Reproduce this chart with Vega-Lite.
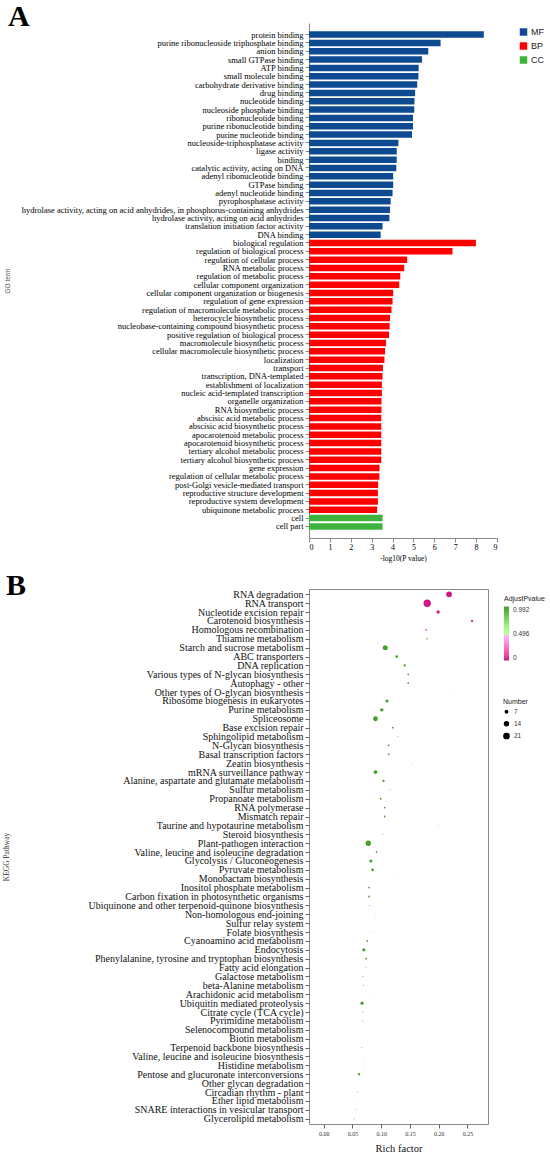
{
  "$schema": "https://vega.github.io/schema/vega-lite/v6.json",
  "background": "white",
  "padding": {"left": 1, "top": 2, "right": 5, "bottom": 5},
  "columns": 1,
  "align": "none",
  "spacing": 8,
  "config": {
    "view": {"stroke": null},
    "axis": {"grid": false},
    "font": "Liberation Serif"
  },
  "resolve": {"scale": {"color": "independent", "size": "independent"}, "legend": {"color": "independent"}},
  "concat": [
    {
      "title": {"text": "A", "anchor": "start", "frame": "bounds", "fontSize": 30, "font": "Liberation Serif", "fontWeight": "bold", "offset": -9, "dx": 4, "color": "#000"},
      "width": 188,
      "height": 515,
      "data": {
        "values": [
          {"term": "protein binding", "value": 8.37, "category": "MF"},
          {"term": "purine ribonucleoside triphosphate binding", "value": 6.30, "category": "MF"},
          {"term": "anion binding", "value": 5.71, "category": "MF"},
          {"term": "small GTPase binding", "value": 5.41, "category": "MF"},
          {"term": "ATP binding", "value": 5.25, "category": "MF"},
          {"term": "small molecule binding", "value": 5.24, "category": "MF"},
          {"term": "carbohydrate derivative binding", "value": 5.18, "category": "MF"},
          {"term": "drug binding", "value": 5.08, "category": "MF"},
          {"term": "nucleotide binding", "value": 5.05, "category": "MF"},
          {"term": "nucleoside phosphate binding", "value": 5.04, "category": "MF"},
          {"term": "ribonucleotide binding", "value": 4.98, "category": "MF"},
          {"term": "purine ribonucleotide binding", "value": 4.98, "category": "MF"},
          {"term": "purine nucleotide binding", "value": 4.93, "category": "MF"},
          {"term": "nucleoside-triphosphatase activity", "value": 4.28, "category": "MF"},
          {"term": "ligase activity", "value": 4.20, "category": "MF"},
          {"term": "binding", "value": 4.20, "category": "MF"},
          {"term": "catalytic activity, acting on DNA", "value": 4.18, "category": "MF"},
          {"term": "adenyl ribonucleotide binding", "value": 4.03, "category": "MF"},
          {"term": "GTPase binding", "value": 4.03, "category": "MF"},
          {"term": "adenyl nucleotide binding", "value": 4.00, "category": "MF"},
          {"term": "pyrophosphatase activity", "value": 3.91, "category": "MF"},
          {"term": "hydrolase activity, acting on acid anhydrides, in phosphorus-containing anhydrides", "value": 3.88, "category": "MF"},
          {"term": "hydrolase activity, acting on acid anhydrides", "value": 3.85, "category": "MF"},
          {"term": "translation initiation factor activity", "value": 3.52, "category": "MF"},
          {"term": "DNA binding", "value": 3.43, "category": "MF"},
          {"term": "biological regulation", "value": 7.99, "category": "BP"},
          {"term": "regulation of biological process", "value": 6.87, "category": "BP"},
          {"term": "regulation of cellular process", "value": 4.70, "category": "BP"},
          {"term": "RNA metabolic process", "value": 4.56, "category": "BP"},
          {"term": "regulation of metabolic process", "value": 4.37, "category": "BP"},
          {"term": "cellular component organization", "value": 4.32, "category": "BP"},
          {"term": "cellular component organization or biogenesis", "value": 4.03, "category": "BP"},
          {"term": "regulation of gene expression", "value": 4.00, "category": "BP"},
          {"term": "regulation of macromolecule metabolic process", "value": 3.95, "category": "BP"},
          {"term": "heterocycle biosynthetic process", "value": 3.88, "category": "BP"},
          {"term": "nucleobase-containing compound biosynthetic process", "value": 3.86, "category": "BP"},
          {"term": "positive regulation of biological process", "value": 3.83, "category": "BP"},
          {"term": "macromolecule biosynthetic process", "value": 3.69, "category": "BP"},
          {"term": "cellular macromolecule biosynthetic process", "value": 3.64, "category": "BP"},
          {"term": "localization", "value": 3.61, "category": "BP"},
          {"term": "transport", "value": 3.54, "category": "BP"},
          {"term": "transcription, DNA-templated", "value": 3.52, "category": "BP"},
          {"term": "establishment of localization", "value": 3.49, "category": "BP"},
          {"term": "nucleic acid-templated transcription", "value": 3.49, "category": "BP"},
          {"term": "organelle organization", "value": 3.47, "category": "BP"},
          {"term": "RNA biosynthetic process", "value": 3.47, "category": "BP"},
          {"term": "abscisic acid metabolic process", "value": 3.46, "category": "BP"},
          {"term": "abscisic acid biosynthetic process", "value": 3.46, "category": "BP"},
          {"term": "apocarotenoid metabolic process", "value": 3.46, "category": "BP"},
          {"term": "apocarotenoid biosynthetic process", "value": 3.46, "category": "BP"},
          {"term": "tertiary alcohol metabolic process", "value": 3.46, "category": "BP"},
          {"term": "tertiary alcohol biosynthetic process", "value": 3.46, "category": "BP"},
          {"term": "gene expression", "value": 3.38, "category": "BP"},
          {"term": "regulation of cellular metabolic process", "value": 3.37, "category": "BP"},
          {"term": "post-Golgi vesicle-mediated transport", "value": 3.31, "category": "BP"},
          {"term": "reproductive structure development", "value": 3.30, "category": "BP"},
          {"term": "reproductive system development", "value": 3.30, "category": "BP"},
          {"term": "ubiquinone metabolic process", "value": 3.26, "category": "BP"},
          {"term": "cell", "value": 3.52, "category": "CC"},
          {"term": "cell part", "value": 3.52, "category": "CC"}
        ]
      },
      "mark": {"type": "bar"},
      "encoding": {
        "y": {
          "field": "term", "type": "nominal", "sort": null,
          "scale": {"paddingInner": 0.22, "paddingOuter": 2.0},
          "axis": {
            "title": "GO term", "titleFont": "Liberation Sans", "titleFontSize": 6.5, "titleFontWeight": "normal", "titleColor": "#555", "titleX": -299,
            "labelFont": "Liberation Serif", "labelFontSize": 8.5, "labelColor": "#000", "labelLimit": 400, "labelPadding": 2,
            "domainColor": "#888", "tickColor": "#888", "tickSize": 4
          }
        },
        "x": {
          "field": "value", "type": "quantitative",
          "scale": {"domain": [0, 9], "nice": false},
          "axis": {
            "title": "-log10(P value)", "titleFont": "Liberation Serif", "titleFontSize": 7.5, "titleFontWeight": "normal", "titleColor": "#000", "titlePadding": 3,
            "values": [0, 1, 2, 3, 4, 5, 6, 7, 8, 9],
            "labelFont": "Liberation Serif", "labelFontSize": 8, "labelColor": "#000", "labelPadding": 1,
            "domainColor": "#888", "tickColor": "#888", "tickSize": 4
          }
        },
        "color": {
          "field": "category", "type": "nominal",
          "scale": {"domain": ["MF", "BP", "CC"], "range": ["#0E4A92", "#FF0000", "#3DB23D"]},
          "legend": {
            "title": null, "orient": "none", "legendX": 210, "legendY": 4.5,
            "symbolType": "square", "symbolSize": 56, "symbolStrokeWidth": 0,
            "labelFont": "Liberation Sans", "labelFontSize": 9, "labelColor": "#222", "labelOffset": 3, "rowPadding": 4
          }
        }
      }
    },
    {
      "title": {"text": "B", "anchor": "start", "frame": "bounds", "fontSize": 30, "font": "Liberation Serif", "fontWeight": "bold", "offset": -12, "dx": 4, "color": "#000"},
      "width": 179,
      "height": 535,
      "view": {"stroke": "#888", "strokeWidth": 1},
      "data": {
        "values": [
          {"pathway": "RNA degradation", "rich": 0.218, "p": 0.005, "n": 16},
          {"pathway": "RNA transport", "rich": 0.180, "p": 0.005, "n": 25},
          {"pathway": "Nucleotide excision repair", "rich": 0.199, "p": 0.03, "n": 6},
          {"pathway": "Carotenoid biosynthesis", "rich": 0.258, "p": 0.05, "n": 3},
          {"pathway": "Homologous recombination", "rich": 0.178, "p": 0.3, "n": 3},
          {"pathway": "Thiamine metabolism", "rich": 0.180, "p": 0.75, "n": 2},
          {"pathway": "Starch and sucrose metabolism", "rich": 0.107, "p": 0.992, "n": 12},
          {"pathway": "ABC transporters", "rich": 0.127, "p": 0.992, "n": 4},
          {"pathway": "DNA replication", "rich": 0.141, "p": 0.992, "n": 3},
          {"pathway": "Various types of N-glycan biosynthesis", "rich": 0.147, "p": 0.992, "n": 2},
          {"pathway": "Autophagy - other", "rich": 0.147, "p": 0.992, "n": 2},
          {"pathway": "Other types of O-glycan biosynthesis", "rich": 0.221, "p": 0.6, "n": 1},
          {"pathway": "Ribosome biogenesis in eukaryotes", "rich": 0.110, "p": 0.992, "n": 5},
          {"pathway": "Purine metabolism", "rich": 0.101, "p": 0.992, "n": 6},
          {"pathway": "Spliceosome", "rich": 0.090, "p": 0.992, "n": 11},
          {"pathway": "Base excision repair", "rich": 0.120, "p": 0.992, "n": 2},
          {"pathway": "Sphingolipid metabolism", "rich": 0.129, "p": 0.85, "n": 1},
          {"pathway": "N-Glycan biosynthesis", "rich": 0.113, "p": 0.992, "n": 2},
          {"pathway": "Basal transcription factors", "rich": 0.113, "p": 0.992, "n": 2},
          {"pathway": "Zeatin biosynthesis", "rich": 0.153, "p": 0.65, "n": 1},
          {"pathway": "mRNA surveillance pathway", "rich": 0.090, "p": 0.992, "n": 7},
          {"pathway": "Alanine, aspartate and glutamate metabolism", "rich": 0.104, "p": 0.992, "n": 3},
          {"pathway": "Sulfur metabolism", "rich": 0.115, "p": 0.85, "n": 1},
          {"pathway": "Propanoate metabolism", "rich": 0.099, "p": 0.992, "n": 2},
          {"pathway": "RNA polymerase", "rich": 0.106, "p": 0.992, "n": 2},
          {"pathway": "Mismatch repair", "rich": 0.106, "p": 0.992, "n": 2},
          {"pathway": "Taurine and hypotaurine metabolism", "rich": 0.201, "p": 0.55, "n": 1},
          {"pathway": "Steroid biosynthesis", "rich": 0.103, "p": 0.85, "n": 1},
          {"pathway": "Plant-pathogen interaction", "rich": 0.0775, "p": 0.992, "n": 14},
          {"pathway": "Valine, leucine and isoleucine degradation", "rich": 0.092, "p": 0.992, "n": 2},
          {"pathway": "Glycolysis / Gluconeogenesis", "rich": 0.082, "p": 0.992, "n": 5},
          {"pathway": "Pyruvate metabolism", "rich": 0.085, "p": 0.992, "n": 4},
          {"pathway": "Monobactam biosynthesis", "rich": 0.124, "p": 0.55, "n": 1},
          {"pathway": "Inositol phosphate metabolism", "rich": 0.079, "p": 0.992, "n": 2},
          {"pathway": "Carbon fixation in photosynthetic organisms", "rich": 0.079, "p": 0.992, "n": 2},
          {"pathway": "Ubiquinone and other terpenoid-quinone biosynthesis", "rich": 0.080, "p": 0.9, "n": 1},
          {"pathway": "Non-homologous end-joining", "rich": 0.090, "p": 0.55, "n": 1},
          {"pathway": "Sulfur relay system", "rich": 0.100, "p": 0.55, "n": 1},
          {"pathway": "Folate biosynthesis", "rich": 0.087, "p": 0.65, "n": 1},
          {"pathway": "Cyanoamino acid metabolism", "rich": 0.0758, "p": 0.992, "n": 2},
          {"pathway": "Endocytosis", "rich": 0.0697, "p": 0.992, "n": 5},
          {"pathway": "Phenylalanine, tyrosine and tryptophan biosynthesis", "rich": 0.0737, "p": 0.992, "n": 2},
          {"pathway": "Fatty acid elongation", "rich": 0.0735, "p": 0.85, "n": 1},
          {"pathway": "Galactose metabolism", "rich": 0.0685, "p": 0.992, "n": 1},
          {"pathway": "beta-Alanine metabolism", "rich": 0.069, "p": 0.992, "n": 1},
          {"pathway": "Arachidonic acid metabolism", "rich": 0.082, "p": 0.55, "n": 1},
          {"pathway": "Ubiquitin mediated proteolysis", "rich": 0.0666, "p": 0.992, "n": 5},
          {"pathway": "Citrate cycle (TCA cycle)", "rich": 0.068, "p": 0.9, "n": 1},
          {"pathway": "Pyrimidine metabolism", "rich": 0.068, "p": 0.9, "n": 1},
          {"pathway": "Selenocompound metabolism", "rich": 0.076, "p": 0.55, "n": 1},
          {"pathway": "Biotin metabolism", "rich": 0.077, "p": 0.55, "n": 1},
          {"pathway": "Terpenoid backbone biosynthesis", "rich": 0.066, "p": 0.9, "n": 1},
          {"pathway": "Valine, leucine and isoleucine biosynthesis", "rich": 0.071, "p": 0.55, "n": 1},
          {"pathway": "Histidine metabolism", "rich": 0.070, "p": 0.55, "n": 1},
          {"pathway": "Pentose and glucuronate interconversions", "rich": 0.0615, "p": 0.992, "n": 3},
          {"pathway": "Other glycan degradation", "rich": 0.063, "p": 0.55, "n": 1},
          {"pathway": "Circadian rhythm - plant", "rich": 0.059, "p": 0.8, "n": 1},
          {"pathway": "Ether lipid metabolism", "rich": 0.058, "p": 0.55, "n": 1},
          {"pathway": "SNARE interactions in vesicular transport", "rich": 0.0556, "p": 0.8, "n": 1},
          {"pathway": "Glycerolipid metabolism", "rich": 0.053, "p": 0.9, "n": 1}
        ]
      },
      "mark": {"type": "point", "filled": true, "opacity": 1, "shape": "circle"},
      "encoding": {
        "y": {
          "field": "pathway", "type": "nominal", "sort": null,
          "scale": {"type": "point", "padding": 0.6},
          "axis": {
            "title": "KEGG Pathway", "titleFont": "Liberation Serif", "titleFontSize": 7.5, "titleFontWeight": "normal", "titleColor": "#333", "titleX": -299,
            "labelFont": "Liberation Serif", "labelFontSize": 10, "labelColor": "#111", "labelLimit": 400, "labelPadding": 2,
            "domain": false, "tickColor": "#666", "tickSize": 4
          }
        },
        "x": {
          "field": "rich", "type": "quantitative",
          "scale": {"domain": [-0.0256, 0.2857], "nice": false, "zero": false},
          "axis": {
            "title": "Rich factor", "titleFont": "Liberation Serif", "titleFontSize": 10.5, "titleFontWeight": "normal", "titleColor": "#111", "titlePadding": 7,
            "values": [0, 0.05, 0.1, 0.15, 0.2, 0.25], "format": ".2f",
            "labelFont": "Liberation Serif", "labelFontSize": 6, "labelColor": "#333", "labelPadding": 2,
            "domain": false, "tickColor": "#666", "tickSize": 4
          }
        },
        "color": {
          "field": "p", "type": "quantitative",
          "scale": {"domain": [0, 0.496, 0.992], "range": ["#D0157F", "#FFFFFF", "#45A02B"]},
          "legend": {
            "title": "AdjustPvalue", "orient": "none", "legendX": 195, "legendY": 5.5,
            "titleFont": "Liberation Sans", "titleFontSize": 7, "titleFontWeight": "normal", "titleColor": "#222", "titlePadding": 5,
            "values": [0, 0.496, 0.992], "format": ".3~f",
            "gradientLength": 54, "gradientThickness": 5, "gradientStrokeWidth": 0,
            "labelFont": "Liberation Sans", "labelFontSize": 6.5, "labelColor": "#333", "labelOffset": 4
          }
        },
        "size": {
          "field": "n", "type": "quantitative",
          "scale": {"domain": [1, 25], "range": [1, 54], "zero": false},
          "legend": {
            "title": "Number", "orient": "none", "legendX": 194, "legendY": 108.5,
            "titleFont": "Liberation Sans", "titleFontSize": 7, "titleFontWeight": "normal", "titleColor": "#222", "titlePadding": 4,
            "values": [7, 14, 21], "symbolFillColor": "#000", "symbolStrokeWidth": 0, "symbolType": "circle",
            "labelFont": "Liberation Sans", "labelFontSize": 6.5, "labelColor": "#333", "labelOffset": 4, "rowPadding": 5
          }
        }
      }
    }
  ]
}
